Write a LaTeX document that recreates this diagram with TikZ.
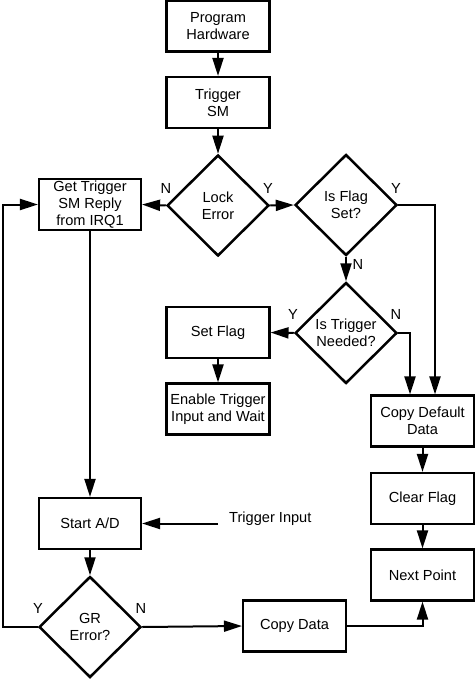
\documentclass[tikz,border=0pt]{standalone}
\usepackage{fontspec}
\setmainfont{Liberation Sans}
\usetikzlibrary{shapes.geometric,arrows.meta}
\begin{document}
\begin{tikzpicture}[x=1pt,y=-1pt,
  every node/.style={font=\fontsize{14.6}{17.3}\selectfont},
  box/.style={draw,line width=2.1pt,minimum width=103pt,minimum height=51pt,inner sep=1pt,align=center},
  dia/.style={draw,diamond,line width=2.5pt,minimum width=102pt,minimum height=101pt,inner sep=1pt,align=center},
  lbl/.style={inner sep=0pt},
  conn/.style={line width=2pt,-{Triangle[length=18pt,width=11pt]}},
  plain/.style={line width=2pt}]
\useasboundingbox (0,0) rectangle (474,679);
\node[box] (ph) at (218,26) {Program\\Hardware};
\node[box] (tsm) at (218,102.5) {Trigger\\SM};
\node[dia] (le) at (218,205.5) {Lock\\Error};
\node[dia] (ifs) at (346,205) {Is Flag\\Set?};
\node[box,minimum width=102pt] (gt) at (90,204.5) {Get Trigger\\SM Reply\\from IRQ1};
\node[dia] (itn) at (346,333) {Is Trigger\\Needed?};
\node[box] (sf) at (218,332.5) {Set Flag};
\node[box] (et) at (218,409) {Enable Trigger\\Input and Wait};
\node[box] (cdd) at (422.5,421) {Copy Default\\Data};
\node[box] (cf) at (422.5,498.5) {Clear Flag};
\node[box] (np) at (422.5,575) {Next Point};
\node[box,minimum width=102pt] (sad) at (90,523.5) {Start A/D};
\node[dia] (gr) at (90,627) {GR\\Error?};
\node[box] (cd) at (294.5,626) {Copy Data};
\node[lbl,anchor=west] (ti) at (229,519) {Trigger Input};
\coordinate (tis) at (218,523.5);
\coordinate (loopb) at (3,627);
% labels
\node[lbl] (lN1) at (166,188) {N};
\node[lbl] (lY1) at (268,188) {Y};
\node[lbl] (lY2) at (396,188) {Y};
\node[lbl] (lN2) at (358,264) {N};
\node[lbl] (lY3) at (293,314) {Y};
\node[lbl] (lN3) at (396,314) {N};
\node[lbl] (lY4) at (38,608) {Y};
\node[lbl] (lN4) at (141,608) {N};
% connectors
\draw[conn] (ph) -- (tsm);
\draw[conn] (tsm) -- (le);
\draw[conn] (le.west) -- (gt.east);
\draw[conn] (le.east) -- (ifs.west);
\draw[conn] (ifs.east) -| ([xshift=12.5pt]cdd.north);
\draw[conn] (ifs.south) -- (itn.north);
\draw[conn] (itn.west) -- (sf.east);
\draw[conn] (itn.east) -| ([xshift=-12.5pt]cdd.north);
\draw[conn] (sf) -- (et);
\draw[conn] (cdd) -- (cf);
\draw[conn] (cf) -- (np);
\draw[conn] (gt) -- (sad);
\draw[conn] (tis) -- (sad.east);
\draw[conn] (sad) -- (gr);
\draw[conn] (gr.east) -- (cd.west);
\draw[conn] (cd.east) -| (np.south);
\draw[conn] (gr.west) -- (loopb) |- (gt.west);
\end{tikzpicture}
\end{document}
